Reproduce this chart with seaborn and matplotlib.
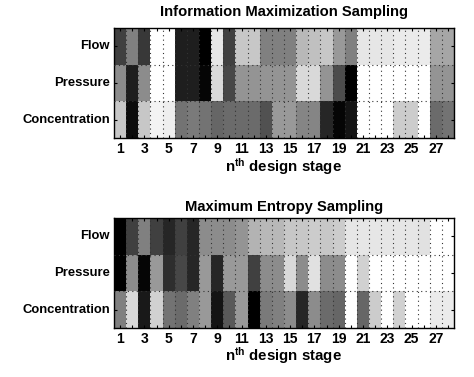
import numpy as np
import pandas as pd
import matplotlib
matplotlib.use("Agg")
import matplotlib.pyplot as plt
import seaborn as sns

sns.set_style("white")
plt.rcParams['font.family'] = ['Liberation Sans', 'DejaVu Sans']
plt.rcParams['mathtext.fontset'] = 'custom'
plt.rcParams['mathtext.rm'] = 'Liberation Sans:bold'
plt.rcParams['mathtext.bf'] = 'Liberation Sans:bold'
for k in ['text.color', 'xtick.color', 'ytick.color', 'axes.labelcolor', 'axes.edgecolor']:
    plt.rcParams[k] = 'black'

stages = list(range(1, 29))
variables = ["Flow", "Pressure", "Concentration"]

# Information Maximization Sampling (gray level 0=black, 1=white)
im_flow = [0.25, 0.5, 0.22, 1.0, 1.0, 0.12, 0.12, 0.0, 0.9, 0.25, 0.78, 0.78, 0.5, 0.5,
           0.5, 0.72, 0.75, 0.78, 0.6, 0.5, 0.9, 0.9, 0.9, 0.92, 0.92, 0.92, 0.65, 0.65]
im_pressure = [0.55, 0.12, 0.55, 1.0, 1.0, 0.12, 0.12, 0.02, 0.85, 0.28, 0.58, 0.58, 0.58, 0.58,
               0.58, 0.85, 0.85, 0.58, 0.3, 0.0, 1.0, 1.0, 1.0, 1.0, 1.0, 1.0, 0.58, 0.58]
im_conc = [0.78, 0.05, 0.78, 0.95, 0.93, 0.45, 0.48, 0.45, 0.4, 0.42, 0.42, 0.42, 0.32, 0.6,
           0.6, 0.52, 0.52, 0.15, 0.02, 0.08, 1.0, 1.0, 1.0, 0.8, 0.8, 1.0, 0.42, 0.45]

# Maximum Entropy Sampling
me_flow = [0.0, 0.25, 0.5, 0.25, 0.15, 0.25, 0.15, 0.55, 0.55, 0.55, 0.58, 0.7, 0.72, 0.72,
           0.78, 0.78, 0.8, 0.78, 0.8, 0.9, 0.9, 0.9, 0.9, 0.9, 0.9, 0.88, 1.0, 1.0]
me_pressure = [0.0, 0.55, 0.02, 0.6, 0.18, 0.28, 0.15, 0.6, 0.15, 0.6, 0.6, 0.25, 0.55, 0.55,
               0.85, 0.55, 0.88, 0.55, 0.55, 1.0, 0.82, 1.0, 1.0, 1.0, 1.0, 1.0, 1.0, 1.0]
me_conc = [0.5, 0.85, 0.1, 0.82, 0.45, 0.42, 0.5, 0.6, 0.08, 0.35, 0.6, 0.0, 0.48, 0.5,
           0.55, 0.15, 0.55, 0.42, 0.4, 1.0, 0.4, 0.8, 1.0, 0.82, 1.0, 1.0, 0.92, 0.92]

titles = ["Information Maximization Sampling", "Maximum Entropy Sampling"]
xlabel = r"$\mathbf{n^{th}}$ design stage"

W, H = 474, 377
fig = plt.figure(figsize=(W / 100, H / 100), dpi=100)

panels = [
    (pd.DataFrame([im_flow, im_pressure, im_conc], index=variables, columns=stages), 28, 138, 12, 167),
    (pd.DataFrame([me_flow, me_pressure, me_conc], index=variables, columns=stages), 218, 328, 207, 356),
]

for (df, top, bot, ty, xy), title in zip(panels, titles):
    ax = fig.add_axes([114 / W, 1 - bot / H, 340 / W, (bot - top) / H])
    sns.heatmap(df, ax=ax, cmap="gray", vmin=0, vmax=1, cbar=False,
                xticklabels=True, yticklabels=True)
    n = len(stages)
    ax.set_xticks(np.arange(n) + 0.5)
    ax.set_xticklabels([str(s) if s % 2 == 1 else "" for s in stages],
                       rotation=0, fontsize=10, fontweight="bold", color="black")
    ax.set_yticks(np.arange(len(variables)) + 0.5)
    ax.set_yticklabels(variables, rotation=0, fontsize=9.4, fontweight="bold", color="black")
    ax.set_xticks(np.arange(1, n), minor=True)
    ax.set_yticks(np.arange(1, len(variables)), minor=True)
    ax.tick_params(which="minor", length=0)
    ax.tick_params(which="major", direction="in", length=2.5, width=0.8,
                   top=True, right=True, bottom=True, left=True,
                   labeltop=False, labelright=False, pad=3, color="black")
    ax.grid(which="minor", color="0.2", linestyle=(0, (1, 3)), linewidth=0.8)
    ax.set_axisbelow(False)
    for sp in ax.spines.values():
        sp.set_visible(True)
        sp.set_color("black")
        sp.set_linewidth(1.0)
    ax.set_xlabel("")
    ax.set_ylabel("")
    fig.text(284 / W, 1 - ty / H, title, ha="center", va="center",
             fontsize=10.6, fontweight="bold", color="black")
    fig.text(284 / W, 1 - xy / H, xlabel, ha="center", va="center",
             fontsize=10.8, fontweight="bold", color="black")

fig.savefig("out.png", dpi=100)
